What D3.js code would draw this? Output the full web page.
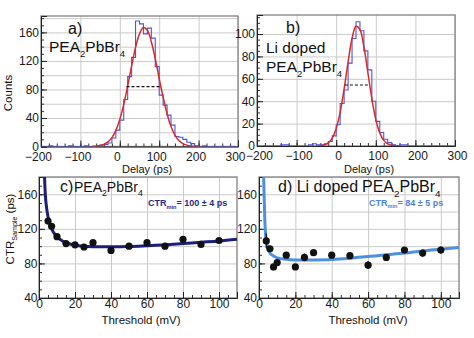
<!DOCTYPE html>
<html>
<head>
<meta charset="utf-8">
<script src="https://cdn.jsdelivr.net/npm/d3@7"></script>
<style>
  body { margin: 0; background: #fff; }
  svg { display: block; font-family: "Liberation Sans", Arial, sans-serif; }
</style>
</head>
<body>
<svg id="chart" width="474" height="338"></svg>
<script>
// ---- data ----
// histograms: 10 ps bins from -200 to 300
const binWidth = 10;
const binStarts = d3.range(-200, 300, binWidth);
const countsA = [
  0, 0, 1, 0, 0, 0, 0, 1, 0, 0,
  0, 1, 0, 0, 1, 2, 3, 5, 12, 23,
  37, 66, 98, 125, 176, 172, 158, 166, 152, 112,
  72, 58, 44, 30, 14, 13, 10, 6, 4, 1,
  0, 1, 0, 0, 0, 0, 0, 0, 0, 0
];
const countsB = [
  0, 0, 0, 0, 0, 0, 1, 1, 0, 0,
  0, 0, 0, 1, 2, 1, 1, 2, 4, 9,
  19, 38, 50, 74, 96, 111, 103, 85, 68, 40,
  22, 12, 6, 3, 1, 0, 1, 1, 0, 0,
  0, 0, 0, 0, 0, 0, 0, 0, 0, 0
];
// gaussian fits (red)
const fitADelay = [-70, -60, -50, -40, -30, -20, -10, 0, 10, 20, 30, 40, 50, 60, 70, 80, 90, 100, 110, 120, 130, 140, 150, 160, 170, 180, 190, 200];
const fitACounts = [0.2, 0.5, 1.3, 3, 6.4, 12.5, 22.6, 38, 59, 85, 113, 139, 158, 167, 163, 147, 123, 95, 69, 46, 28, 16, 8.4, 4.1, 1.9, 0.8, 0.3, 0.1];
const fitBDelay = [-50, -40, -30, -20, -10, 0, 10, 20, 30, 40, 50, 60, 70, 80, 90, 100, 110, 120, 130, 140, 150, 160];
const fitBCounts = [0.1, 0.3, 1.0, 2.8, 7.1, 15.7, 30.3, 51, 75, 96, 107, 104, 88.5, 65.5, 42.3, 23.6, 11.7, 5.0, 1.9, 0.6, 0.2, 0.05];
// FWHM markers [from, to, level]
const fwhmA = [17, 102, 84];
const fwhmB = [22, 85, 54.5];

// CTR vs threshold
const thrC = [5, 7, 10, 15, 20, 25, 30, 40, 50, 60, 70, 80, 90, 100];
const ctrC = [129, 123, 111, 103, 101.5, 99, 104, 95, 100, 104, 100, 108, 102, 106.5];
const errC = [3, 3, 2.5, 2, 2, 1.5, 2, 1.5, 1.5, 2, 1.5, 2.5, 1.5, 2];
const fitCThr = [3, 3.5, 4, 5, 6, 8, 10, 12, 15, 20, 25, 30, 40, 50, 60, 70, 80, 90, 100, 110];
const fitCCtr = [185, 160, 148, 134, 126, 116, 111, 107.5, 104, 101, 99.8, 99.3, 99.2, 99.6, 100.5, 101.5, 103, 104.5, 106, 108];

const thrD = [4, 6, 8, 10, 15, 20, 25, 30, 40, 50, 60, 70, 80, 90, 100];
const ctrD = [106, 97, 76, 81, 89.5, 76, 87, 92.5, 89.5, 89, 78, 87, 95.5, 92, 95.5];
const errD = [8.5, 2, 2, 3, 2.5, 1.5, 4.5, 1.5, 3, 2, 4.5, 1.5, 3, 4, 4];
const fitDThr = [2.5, 2.8, 3, 3.3, 3.7, 4, 5, 6, 8, 10, 15, 20, 30, 40, 50, 60, 70, 80, 90, 100, 110];
const fitDCtr = [185, 160, 145, 125, 112, 106, 97, 92, 88.5, 86.5, 84.8, 84, 84, 84.5, 86, 88, 90, 92, 94.5, 96.5, 98.5];

// ticks
const delayTicks = [-200, -100, 0, 100, 200, 300];
const countTicksA = [0, 40, 80, 120, 160];
const countTicksB = [0, 20, 40, 60, 80, 100];
const thrTicks = [0, 20, 40, 60, 80, 100];
const ctrTicks = [40, 80, 120, 160];

const svg = d3.select('#chart');
const defs = svg.append('defs');

function panel(o) {
  const x = d3.scaleLinear().domain(o.xDom).range(o.xR);
  const y = d3.scaleLinear().domain(o.yDom).range(o.yR);
  const w = o.xR[1] - o.xR[0], h = o.yR[0] - o.yR[1];
  const g = svg.append('g');
  const id = 'clip-' + o.name;
  defs.append('clipPath').attr('id', id).append('rect')
    .attr('x', o.xR[0]).attr('y', o.yR[1]).attr('width', w).attr('height', h);

  const clean = s => s.select('.domain').remove();

  // grid
  g.append('g').attr('transform', `translate(0,${o.yR[0]})`)
    .call(d3.axisBottom(x).tickValues(o.xGrid).tickSize(-h).tickFormat(''))
    .call(clean).selectAll('line').attr('stroke', '#cacaca');
  g.append('g').attr('transform', `translate(${o.xR[0]},0)`)
    .call(d3.axisLeft(y).tickValues(o.yGrid).tickSize(-w).tickFormat(''))
    .call(clean).selectAll('line').attr('stroke', '#cacaca');

  // frame
  g.append('rect').attr('x', o.xR[0]).attr('y', o.yR[1]).attr('width', w).attr('height', h)
    .attr('fill', 'none').attr('stroke', '#8a8a8a').attr('stroke-width', 1.4);

  // minor ticks
  g.append('g').attr('transform', `translate(0,${o.yR[0]})`)
    .call(d3.axisBottom(x).tickValues(o.xMinor).tickSize(-3).tickFormat(''))
    .call(clean).selectAll('line').attr('stroke', '#333');
  g.append('g').attr('transform', `translate(${o.xR[0]},0)`)
    .call(d3.axisLeft(y).tickValues(o.yMinor).tickSize(-3).tickFormat(''))
    .call(clean).selectAll('line').attr('stroke', '#333');

  // major ticks + labels
  const xa = g.append('g').attr('transform', `translate(0,${o.yR[0]})`)
    .call(d3.axisBottom(x).tickValues(o.xTicks).tickSize(-6).tickPadding(o.xPad));
  xa.select('.domain').attr('stroke', '#222');
  xa.selectAll('line').attr('stroke', '#222');
  xa.selectAll('text').attr('font-size', 12).attr('fill', '#1a1a1a')
    .attr('dx', o.xShift || 0)
    .attr('font-family', '"Liberation Sans", Arial, sans-serif');
  const ya = g.append('g').attr('transform', `translate(${o.xR[0]},0)`)
    .call(d3.axisLeft(y).tickValues(o.yTicks).tickSize(-6).tickPadding(o.yPad));
  ya.select('.domain').attr('stroke', '#222');
  ya.selectAll('line').attr('stroke', '#222');
  ya.selectAll('text').attr('font-size', 12).attr('fill', '#1a1a1a')
    .attr('font-family', '"Liberation Sans", Arial, sans-serif');

  const plot = svg.append('g').attr('clip-path', `url(#${id})`);
  return { x, y, plot };
}

// text with sub-scripts: parts = [[string, isSub]]
function rich(parent, x, y, parts, size, opts = {}) {
  const t = parent.append('text').attr('x', x).attr('y', y)
    .attr('font-size', size).attr('fill', opts.fill || '#111')
    .attr('font-weight', opts.weight || 'normal')
    .attr('text-anchor', opts.anchor || 'start');
  if (opts.rotate) t.attr('transform', `rotate(-90,${x},${y})`);
  let down = 0;
  parts.forEach(([s, sub]) => {
    const shift = sub ? size * 0.3 : 0;
    t.append('tspan').attr('font-size', sub ? size * 0.62 : size)
      .attr('dy', shift - down).text(s);
    down = shift;
  });
  return t;
}
const PEA = [['PEA', 0], ['2', 1], ['PbBr', 0], ['4', 1]];

function histPanel(o, counts, fitX, fitY, fwhm) {
  const p = panel(o);
  const pts = [];
  binStarts.forEach((b, i) => { pts.push([b, counts[i]], [b + binWidth, counts[i]]); });
  p.plot.append('path').datum(pts)
    .attr('d', d3.line().x(d => p.x(d[0])).y(d => p.y(d[1])))
    .attr('fill', 'none').attr('stroke', '#5252e0').attr('stroke-width', 1.1);
  p.plot.append('path').datum(fitX.map((v, i) => [v, fitY[i]]))
    .attr('d', d3.line().x(d => p.x(d[0])).y(d => p.y(d[1])).curve(d3.curveCatmullRom))
    .attr('fill', 'none').attr('stroke', '#d42a2a').attr('stroke-width', 1.5);
  p.plot.append('line')
    .attr('x1', p.x(fwhm[0])).attr('x2', p.x(fwhm[1]))
    .attr('y1', p.y(fwhm[2])).attr('y2', p.y(fwhm[2]))
    .attr('stroke', '#111').attr('stroke-width', 1.2).attr('stroke-dasharray', '3,2');
  return p;
}

function ctrPanel(o, thr, ctr, err, fitX, fitY, color) {
  const p = panel(o);
  p.plot.append('path').datum(fitX.map((v, i) => [v, fitY[i]]))
    .attr('d', d3.line().x(d => p.x(d[0])).y(d => p.y(d[1])).curve(d3.curveCatmullRom))
    .attr('fill', 'none').attr('stroke', color).attr('stroke-width', 3);
  const pts = p.plot.append('g');
  thr.forEach((t, i) => {
    pts.append('line').attr('x1', p.x(t)).attr('x2', p.x(t))
      .attr('y1', p.y(ctr[i] - err[i])).attr('y2', p.y(ctr[i] + err[i]))
      .attr('stroke', '#111').attr('stroke-width', 1.3);
    pts.append('circle').attr('cx', p.x(t)).attr('cy', p.y(ctr[i])).attr('r', 3.6).attr('fill', '#111');
  });
  return p;
}

// ---- panels ----
histPanel({
  name: 'a', xDom: [-200, 300], xR: [41, 238], yDom: [0, 183], yR: [146.5, 16],
  xTicks: delayTicks, xGrid: delayTicks, xMinor: d3.range(-200, 301, 20),
  yTicks: countTicksA, yGrid: d3.range(0, 181, 20), yMinor: d3.range(0, 181, 10),
  xPad: 5.5, yPad: 2, xShift: -3
}, countsA, fitADelay, fitACounts, fwhmA);

histPanel({
  name: 'b', xDom: [-200, 300], xR: [257, 455], yDom: [0, 117], yR: [146, 15],
  xTicks: delayTicks, xGrid: delayTicks, xMinor: d3.range(-200, 301, 20),
  yTicks: countTicksB, yGrid: countTicksB, yMinor: d3.range(0, 116, 5),
  xPad: 5.5, yPad: 2, xShift: 2
}, countsB, fitBDelay, fitBCounts, fwhmB);

ctrPanel({
  name: 'c', xDom: [0, 110], xR: [39, 237], yDom: [40, 180], yR: [298, 177],
  xTicks: thrTicks, xGrid: thrTicks, xMinor: d3.range(0, 111, 5),
  yTicks: ctrTicks, yGrid: d3.range(40, 181, 20), yMinor: d3.range(40, 181, 10),
  xPad: 1, yPad: 1.5
}, thrC, ctrC, errC, fitCThr, fitCCtr, '#1c1f78');

ctrPanel({
  name: 'd', xDom: [0, 110], xR: [259, 459], yDom: [40, 180], yR: [298, 177],
  xTicks: thrTicks, xGrid: thrTicks, xMinor: d3.range(0, 111, 5),
  yTicks: ctrTicks, yGrid: d3.range(40, 181, 20), yMinor: d3.range(40, 181, 10),
  xPad: 1, yPad: 2
}, thrD, ctrD, errD, fitDThr, fitDCtr, '#4d8fe0');

// ---- titles and labels ----
const labels = svg.append('g');
rich(labels, 12, 93, [['Counts', 0]], 11.5, { anchor: 'middle', rotate: true });
rich(labels, 147, 172.5, [['Delay (ps)', 0]], 11, { anchor: 'middle' });
rich(labels, 369, 172.5, [['Delay (ps)', 0]], 11, { anchor: 'middle' });
rich(labels, 141, 324, [['Threshold (mV)', 0]], 11.5, { anchor: 'middle' });
rich(labels, 368, 324, [['Threshold (mV)', 0]], 11.5, { anchor: 'middle' });
rich(labels, 14, 229, [['CTR', 0], ['Sample', 1], [' (ps)', 0]], 11.5, { anchor: 'middle', rotate: true });

rich(labels, 68, 34, [['a)', 0]], 16);
rich(labels, 49, 52, PEA, 15.5);
rich(labels, 286, 33, [['b)', 0]], 16);
rich(labels, 266, 53, [['Li doped', 0]], 15.5);
rich(labels, 266, 72, PEA, 15.5);
rich(labels, 60, 192, [['c)', 0]], 16);
rich(labels, 74, 192, PEA, 14);
rich(labels, 278, 192, [['d)', 0], [' Li doped ', 0]], 16);
rich(labels, 362, 192, PEA, 16);

rich(labels, 148, 206, [['CTR', 0], ['min', 1], ['= 100 \u00b1 4 ps', 0]], 9, { weight: 'bold', fill: '#1f2a8c' });
rich(labels, 369, 205.5, [['CTR', 0], ['min', 1], ['= 84 \u00b1 5 ps', 0]], 9, { weight: 'bold', fill: '#4f82db' });
</script>
</body>
</html>
